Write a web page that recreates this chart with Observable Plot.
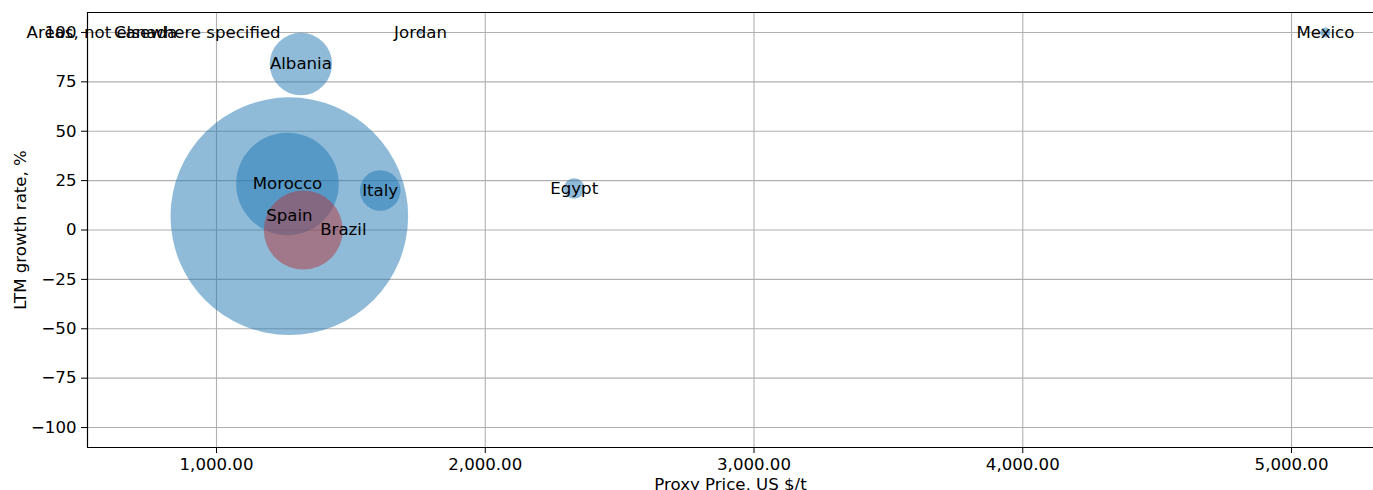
<!DOCTYPE html>
<html>
<head>
<meta charset="utf-8">
<script src="https://cdn.jsdelivr.net/npm/d3@7"></script>
<script src="https://cdn.jsdelivr.net/npm/@observablehq/plot@0.6"></script>
<style>
  html, body { margin: 0; padding: 0; background: white; }
  #chart { width: 1373px; height: 490px; overflow: hidden; }
</style>
</head>
<body>
<div id="chart"></div>
<script>
// ---- data ----
const countries  = ["Spain", "Morocco", "Brazil", "Albania", "Italy", "Egypt", "Mexico", "Jordan", "Canada", "Areas, not elsewhere specified"];
const price      = [1271, 1264, 1323, 1314, 1609, 2331, 5126, 1759, 736, 766];      // Proxy Price, US $/t
const growth     = [7.0, 23.3, 0, 84, 20, 21, 100, 100, 100, 100];                  // LTM growth rate, %
const volume     = [14113, 2632, 1560, 973, 412, 106, 25, 4, 0.25, 0.25];            // relative bubble size
const labelPrice = [1271, 1264, 1472, 1314, 1609, 2331, 5126, 1759, 736, 766];       // where each name is written
const highlight  = "Brazil";

const xTicks = [1000, 2000, 3000, 4000, 5000];
const yTicks = [-100, -75, -50, -25, 0, 25, 50, 75, 100];
const xDomain = [520, 5305];
const yDomain = [-110.1, 110.1];

const rows = countries.map((c, i) => ({
  country: c, price: price[i], growth: growth[i], volume: volume[i], labelPrice: labelPrice[i]
}));

const blue = "#1f77b4";
const red = "#b1353b";
const fs = 16.6;

const chart = Plot.plot({
  width: 1373,
  height: 490,
  marginLeft: 87,
  marginRight: 0,
  marginTop: 12,
  marginBottom: 43,
  style: { fontFamily: "DejaVu Sans, sans-serif", fontSize: fs + "px", color: "black", background: "white", overflow: "visible" },
  x: { domain: xDomain },
  y: { domain: yDomain },
  r: { type: "sqrt", domain: [0, d3.max(volume)], range: [0, 118.8] },
  marks: [
    Plot.gridX(xTicks, { stroke: "#b0b0b0", strokeOpacity: 1, strokeWidth: 1.1 }),
    Plot.gridY(yTicks, { stroke: "#b0b0b0", strokeOpacity: 1, strokeWidth: 1.1 }),
    Plot.dot(rows, {
      x: "price", y: "growth", r: "volume",
      fill: d => d.country === highlight ? red : blue,
      fillOpacity: 0.5, stroke: "none"
    }),
    Plot.text(rows, {
      x: "labelPrice", y: "growth", text: "country",
      fill: "black", fontSize: fs, textAnchor: "middle", lineAnchor: "middle"
    }),
    Plot.ruleY([yDomain[0]], { stroke: "black", strokeWidth: 1.2 }),
    Plot.ruleY([yDomain[1]], { stroke: "black", strokeWidth: 1.2 }),
    Plot.ruleX([xDomain[0]], { stroke: "black", strokeWidth: 1.2 }),
    Plot.axisX(xTicks, {
      tickFormat: d3.format(",.2f"), tickSize: 6, tickPadding: 5,
      fontSize: fs, label: null, stroke: "black"
    }),
    Plot.axisY(yTicks, {
      tickFormat: d3.format("d"), tickSize: 6, tickPadding: 5,
      fontSize: fs, label: null, stroke: "black"
    }),
    Plot.text(["Proxy Price, US $/t"], {
      frameAnchor: "bottom", dy: 37, fontSize: fs, fill: "black", lineAnchor: "middle", textAnchor: "middle"
    }),
    Plot.text(["LTM growth rate, %"], {
      frameAnchor: "left", dx: -67, rotate: -90, fontSize: fs, fill: "black", lineAnchor: "middle", textAnchor: "middle"
    })
  ]
});

document.getElementById("chart").appendChild(chart);
</script>
</body>
</html>
